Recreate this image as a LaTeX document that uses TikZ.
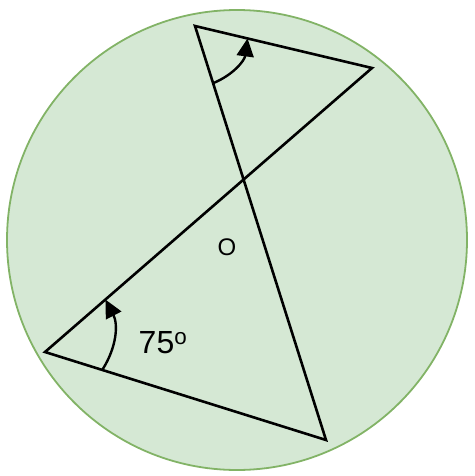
\documentclass[tikz,border=0pt]{standalone}
\usepackage{fontspec}
\setmainfont{Liberation Sans}
\usetikzlibrary{calc,arrows.meta}
\definecolor{cfill}{HTML}{D5E8D4}
\definecolor{cline}{HTML}{82B366}
\begin{document}
\begin{tikzpicture}[x=1pt,y=-1pt,
  seg/.style={line width=2.6pt,black},
  ang/.style={line width=2.4pt,-{Triangle[length=18pt,width=17pt]}},
  lbl/.style={inner sep=0pt}]
\useasboundingbox (0,0) rectangle (474,476);
\node[circle,draw=cline,fill=cfill,line width=1.8pt,minimum size=460pt,inner sep=0pt] (circ) at (237,240) {};
\coordinate (A) at (195,26);
\coordinate (B) at (372,68);
\coordinate (C) at (45,352);
\coordinate (D) at (326,440);
\draw[seg,line join=miter] (B) -- (A) -- (D) -- (C) -- cycle;
\coordinate (p1) at ($(A)!60pt!(D)$);
\coordinate (p2) at ($(A)!54pt!(B)$);
\draw[ang] (p1) to[bend right=30] (p2);
\coordinate (q1) at ($(C)!60pt!(D)$);
\coordinate (q2) at ($(C)!80pt!(B)$);
\draw[ang] (q1) to[bend right=30] (q2);
\node[lbl] (o) at (227,247) {\fontsize{24pt}{24pt}\selectfont O};
\node[lbl] (t) at (163,343) {\fontsize{32pt}{32pt}\selectfont 75\textsuperscript{o}};
\end{tikzpicture}
\end{document}
